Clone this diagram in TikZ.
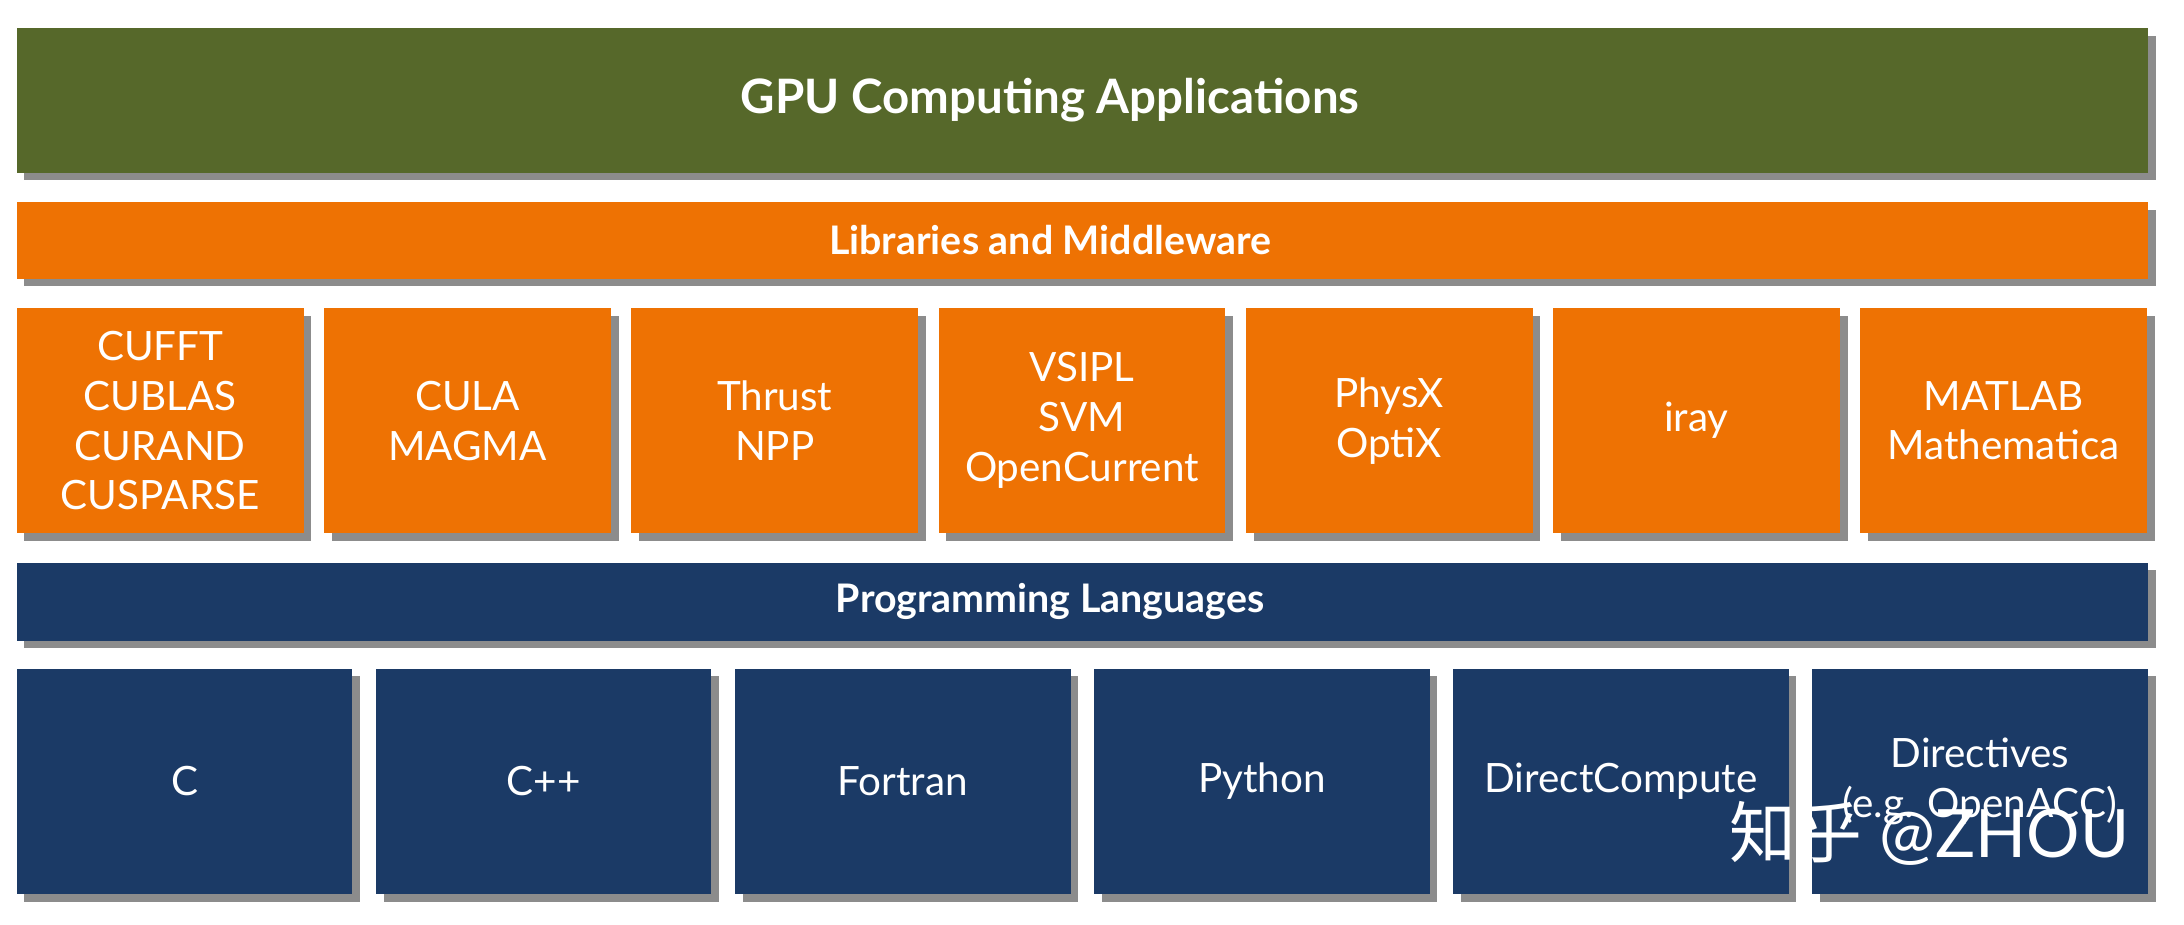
\documentclass[tikz,border=0pt]{standalone}
\usepackage{fontspec}
\setmainfont{Lato}
\newfontfamily\cjk{Noto Sans CJK SC}
\usetikzlibrary{positioning}
\definecolor{appGreen}{HTML}{56682A}
\definecolor{libOrange}{HTML}{EE7203}
\definecolor{langBlue}{HTML}{1B3A66}
\definecolor{shadowGray}{HTML}{8C8C8C}
\tikzset{
    layer/.style={draw=none, inner sep=0pt, align=center, text=white,
        font=\fontsize{11.2}{13}\selectfont\bfseries,
        minimum height=#1*0.01393cm},
    block/.style={draw=none, inner sep=0pt, align=center, text=white,
        font=\fontsize{11.5}{14.2}\selectfont},
    shadowed/.style={preaction={fill=shadowGray, transform canvas={xshift=2.2pt, yshift=-2.2pt}}}
}
\begin{document}
\begin{tikzpicture}[x=0.01393cm, y=-0.01393cm]
          \useasboundingbox[fill=white] (0,0) rectangle (1568,664);
          % top layers
          \fill[shadowed, appGreen] (12,20) rectangle (1542,124);
          \node[layer=1, font=\fontsize{13.5}{15}\selectfont\bfseries] (apps) at (754,72) {GPU Computing Applications};
          \fill[shadowed, libOrange] (12,145) rectangle (1542,200);
          \node[layer=1] (libs) at (754,172) {Libraries and Middleware};
          % library blocks
          \foreach \i/\txt in {0/{CUFFT\\CUBLAS\\CURAND\\CUSPARSE}, 1/{CULA\\MAGMA}, 2/{Thrust\\NPP},
                3/{VSIPL\\SVM\\OpenCurrent}, 4/{PhysX\\OptiX}, 5/{iray}, 6/{MATLAB\\Mathematica}}{
              \fill[shadowed, libOrange] (12+220.6*\i,221) rectangle (218+220.6*\i,383);
              \node[block] (lib\i) at (115+220.6*\i,302) {\txt};
          }
          \fill[shadowed, langBlue] (12,404) rectangle (1542,460);
          \node[layer=1] (langs) at (754,432) {Programming Languages};
          % language blocks
          \foreach \i/\txt in {0/C, 1/C++, 2/Fortran, 3/Python, 4/DirectCompute, 5/{Directives\\(e.g. OpenACC)}}{
              \fill[shadowed, langBlue] (12+257.8*\i,480) rectangle (253+257.8*\i,642);
              \node[block] (lang\i) at (132.5+257.8*\i,561) {\txt};
          }
          \node[text=white, draw=none, font=\fontsize{19}{21}\selectfont] (mark) at (1385,598)
              {{\cjk 知乎} @ZHOU};
        \end{tikzpicture}
\end{document}
